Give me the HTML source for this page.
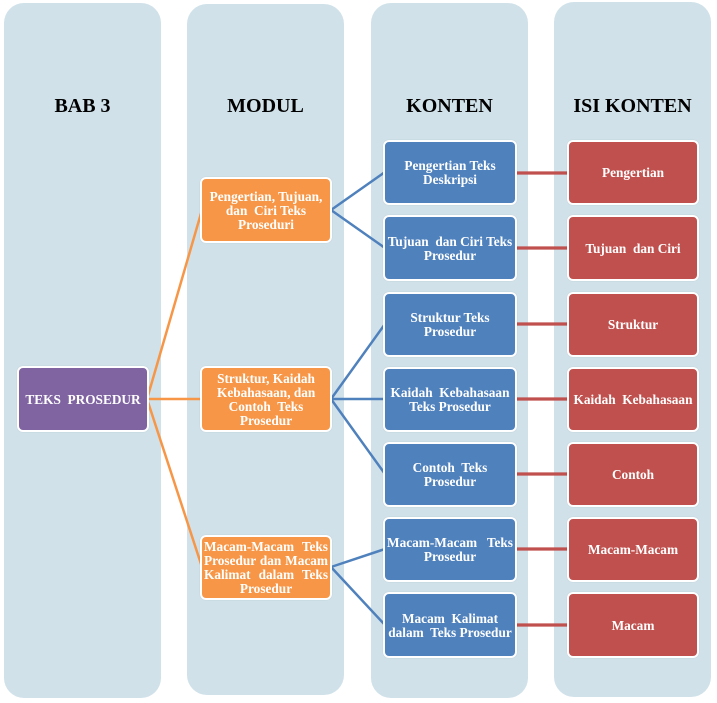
<!DOCTYPE html>
<html><head><meta charset="utf-8">
<style>
html,body{margin:0;padding:0;background:#fff;}
body{width:717px;height:703px;position:relative;overflow:hidden;font-family:"Liberation Serif","Times New Roman",serif;}
.col{position:absolute;background:#d0e1e9;border-radius:20px;}
.h{position:absolute;font-weight:bold;font-size:20px;color:#000;text-align:center;line-height:24px;white-space:nowrap;}
.b{position:absolute;box-sizing:border-box;border:2px solid #fff;border-radius:6px;color:#fff;font-weight:bold;font-size:13.3px;line-height:14px;display:flex;flex-direction:column;justify-content:center;align-items:stretch;padding:1px 2px 0 2px;box-shadow:0 0 1px rgba(0,0,0,0.15);}
.b div{text-align:center;white-space:nowrap;}
.b div.j{text-align:justify;text-align-last:justify;}
.p{background:#8064a2;}
.o{background:#f79646;}
.bl{background:#4f81bd;}
.r{background:#c0504d;}
svg{position:absolute;left:0;top:0;}
</style></head><body>
<div class="col" style="left:4px;top:3px;width:157px;height:695px;"></div>
<div class="col" style="left:187px;top:4px;width:157px;height:691px;"></div>
<div class="col" style="left:371px;top:3px;width:157px;height:695px;"></div>
<div class="col" style="left:554px;top:2px;width:157px;height:695px;"></div>

<div class="h" style="left:4px;width:157px;top:94px;">BAB 3</div>
<div class="h" style="left:187px;width:157px;top:94px;">MODUL</div>
<div class="h" style="left:371px;width:157px;top:94px;">KONTEN</div>
<div class="h" style="left:554px;width:157px;top:94px;">ISI KONTEN</div>

<svg width="717" height="703">
<g stroke="#f79646" stroke-width="2.5" fill="none">
<line x1="147" y1="399" x2="202" y2="210"/>
<line x1="147" y1="399" x2="202" y2="399"/>
<line x1="147" y1="399" x2="202" y2="567"/>
</g>
<g stroke="#4f81bd" stroke-width="2.5" fill="none">
<line x1="331" y1="210" x2="385" y2="172"/>
<line x1="331" y1="210" x2="385" y2="248"/>
<line x1="331" y1="399" x2="385" y2="324"/>
<line x1="331" y1="399" x2="385" y2="399"/>
<line x1="331" y1="399" x2="385" y2="474"/>
<line x1="331" y1="567" x2="385" y2="549"/>
<line x1="331" y1="567" x2="385" y2="625"/>
</g>
<g stroke="#c0504d" stroke-width="3.3" fill="none">
<line x1="515" y1="173" x2="569" y2="173"/>
<line x1="515" y1="248" x2="569" y2="248"/>
<line x1="515" y1="324" x2="569" y2="324"/>
<line x1="515" y1="399" x2="569" y2="399"/>
<line x1="515" y1="474" x2="569" y2="474"/>
<line x1="515" y1="549" x2="569" y2="549"/>
<line x1="515" y1="625" x2="569" y2="625"/>
</g>
</svg>

<div class="b p" style="left:17px;top:366px;width:132px;height:66px;"><div>TEKS&nbsp; PROSEDUR</div></div>

<div class="b o" style="left:200px;top:177px;width:132px;height:66px;"><div>Pengertian, Tujuan,</div><div>dan&nbsp; Ciri Teks</div><div>Proseduri</div></div>
<div class="b o" style="left:200px;top:366px;width:132px;height:66px;padding:1px 15px 0 15px;"><div>Struktur, Kaidah</div><div class="j">Kebahasaan, dan</div><div>Contoh&nbsp; Teks</div><div>Prosedur</div></div>
<div class="b o" style="left:200px;top:535px;width:132px;height:65px;"><div class="j">Macam-Macam Teks</div><div class="j">Prosedur dan Macam</div><div class="j">Kalimat dalam Teks</div><div>Prosedur</div></div>

<div class="b bl" style="left:383px;top:140px;width:134px;height:65px;"><div>Pengertian Teks</div><div>Deskripsi</div></div>
<div class="b bl" style="left:383px;top:215px;width:134px;height:66px;padding:1px 0 0 0;"><div>Tujuan&nbsp; dan Ciri Teks</div><div>Prosedur</div></div>
<div class="b bl" style="left:383px;top:292px;width:134px;height:65px;"><div>Struktur Teks</div><div>Prosedur</div></div>
<div class="b bl" style="left:383px;top:367px;width:134px;height:65px;"><div>Kaidah&nbsp; Kebahasaan</div><div>Teks Prosedur</div></div>
<div class="b bl" style="left:383px;top:442px;width:134px;height:65px;"><div>Contoh&nbsp; Teks</div><div>Prosedur</div></div>
<div class="b bl" style="left:383px;top:517px;width:134px;height:65px;padding:1px 0 0 0;"><div>Macam-Macam&nbsp;&nbsp; Teks</div><div>Prosedur</div></div>
<div class="b bl" style="left:383px;top:592px;width:134px;height:66px;padding:1px 0 0 0;"><div>Macam&nbsp; Kalimat</div><div>dalam&nbsp; Teks Prosedur</div></div>

<div class="b r" style="left:567px;top:140px;width:132px;height:65px;"><div>Pengertian</div></div>
<div class="b r" style="left:567px;top:215px;width:132px;height:66px;"><div>Tujuan&nbsp; dan Ciri</div></div>
<div class="b r" style="left:567px;top:292px;width:132px;height:65px;"><div>Struktur</div></div>
<div class="b r" style="left:567px;top:367px;width:132px;height:65px;"><div>Kaidah&nbsp; Kebahasaan</div></div>
<div class="b r" style="left:567px;top:442px;width:132px;height:65px;"><div>Contoh</div></div>
<div class="b r" style="left:567px;top:517px;width:132px;height:65px;"><div>Macam-Macam</div></div>
<div class="b r" style="left:567px;top:592px;width:132px;height:66px;"><div>Macam</div></div>
</body></html>
